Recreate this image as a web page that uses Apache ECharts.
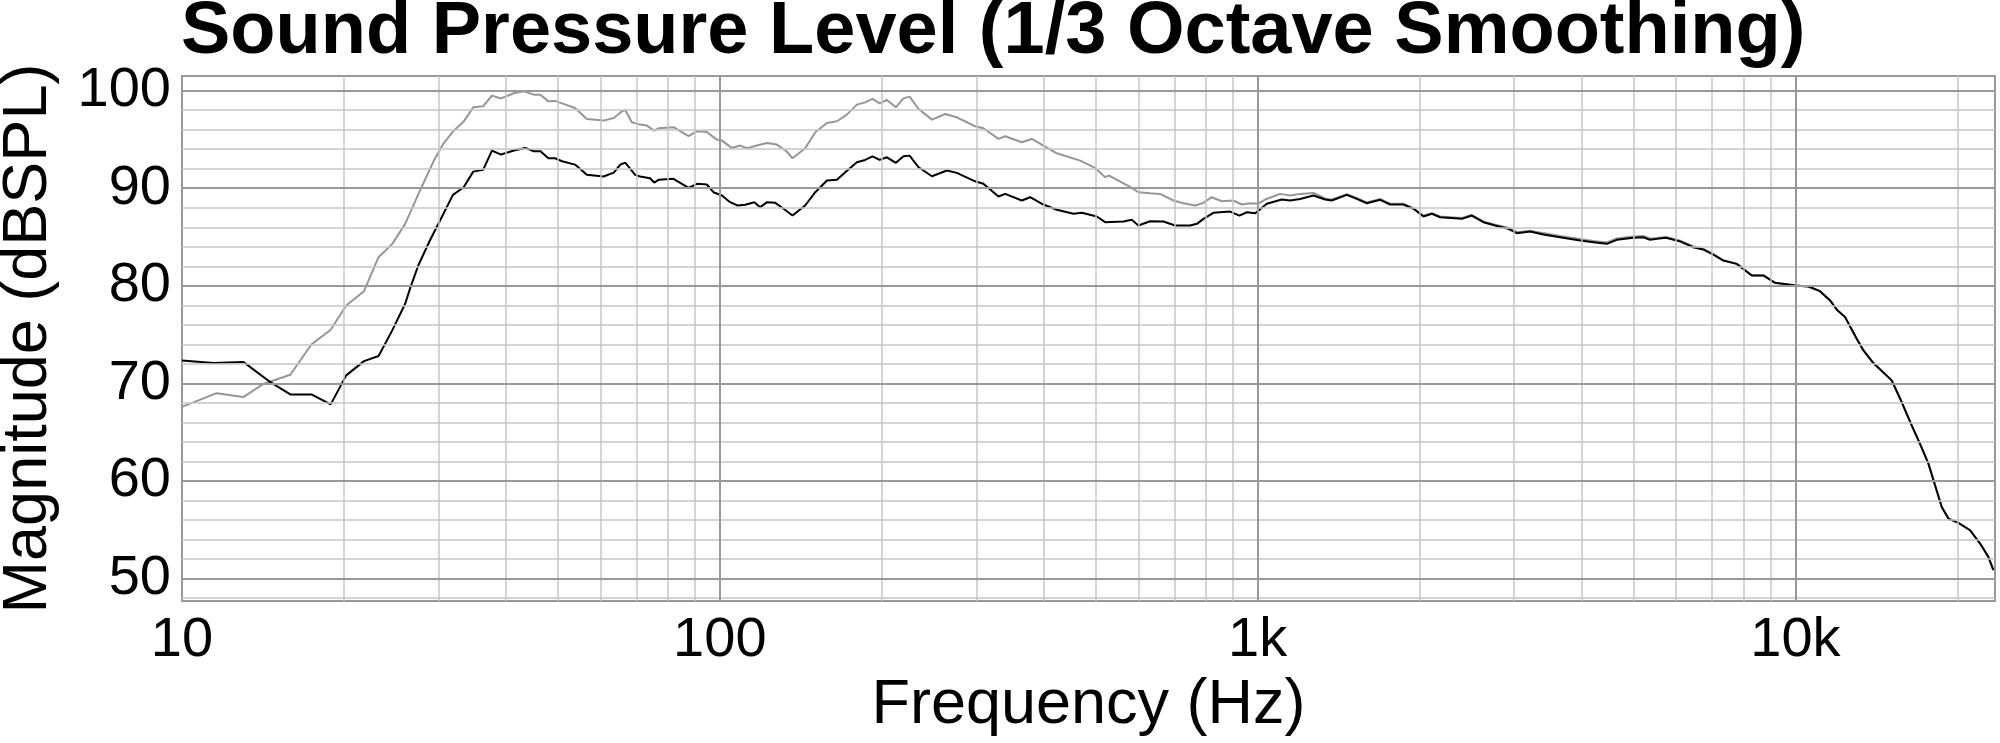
<!DOCTYPE html>
<html>
<head>
<meta charset="utf-8">
<script src="https://cdn.jsdelivr.net/npm/echarts@6/dist/echarts.min.js"></script>
<style>
html,body{margin:0;padding:0;background:#fff;}
#chart{width:2000px;height:743px;}
</style>
</head>
<body>
<div id="chart"></div>
<script>
// ---- data ----
const freqBlack = [10,11.45,13,14.5,15.9,17.4,18.9,20.2,21.8,23.2,24.6,26,26.6,27.5,28.9,30.4,31.9,33.4,34.8,36.3,37.7,39.2,41.4,43.5,45.1,46.4,48,49.4,50.9,53.8,56.6,60.8,63.5,65.3,66.7,69.6,71.1,74.2,75.5,76.9,82,87.5,90.7,94.6,97.3,100.9,104.5,107.9,111.5,115.9,118.9,122.4,126.8,131.4,136.5,144.1,150.5,158.2,165.1,171.1,179.8,186.3,192.3,198.2,204.5,212.5,219.5,225.3,234.2,248,264.4,275.9,298.3,309.1,329.7,339.3,364.4,377.6,399.6,423.2,454.6,471.2,502.4,520.6,563.1,583.6,600.2,631.1,668,702.4,749,771,793,827.5,888.9,925,955,990,1040,1109,1149,1199,1270,1335,1374,1465,1529,1596,1690,1764,1867,1949,2034,2109,2184,2397,2502,2629,2765,2926,3033,3211,3399,3650,3978,4211,4459,4654,4995,5215,5367,5530,5746,6087,6449,6762,7037,7345,7779,8296,8718,9165,10000,10570,11110,11600,11940,12370,13000,13380,13960,15100,15760,16450,17040,17670,18180,18710,19250,20090,21120,22050,22840,23340];
const splBlack = [72.35,72.1,72.2,70.24,68.87,68.87,67.85,70.82,72.28,72.8,75.43,78.16,79.86,82.08,84.64,87.03,89.32,90.1,91.7,91.88,93.86,93.45,93.86,94.13,93.79,93.79,93.07,93.07,92.76,92.42,91.37,91.2,91.6,92.42,92.63,91.37,91.2,91.02,90.58,90.86,90.96,90.04,90.45,90.38,89.59,89.25,88.57,88.23,88.3,88.57,88.06,88.57,88.5,87.89,87.2,88.23,89.59,90.79,90.86,91.64,92.66,92.9,93.27,92.9,93.17,92.6,93.27,93.34,92.15,91.23,91.81,91.57,90.71,90.45,89.15,89.42,88.74,89.08,88.33,87.79,87.38,87.48,87.1,86.52,86.59,86.76,86.18,86.62,86.59,86.18,86.18,86.35,86.86,87.48,87.61,87.2,87.54,87.44,88.4,88.84,88.74,88.9,89.25,88.84,88.74,89.32,88.91,88.46,88.81,88.33,88.33,87.89,87.1,87.38,87.03,86.86,87.2,86.52,86.18,85.84,85.39,85.56,85.26,84.98,84.64,84.47,84.3,84.71,84.92,84.98,84.71,84.81,84.92,84.57,83.96,83.69,83.2,82.59,82.25,81.06,81.06,80.31,80.03,79.93,79.45,78.5,77.55,76.79,74.58,73.38,72.08,70.31,68.09,65.7,63.83,61.78,59.56,57.34,56.15,55.7,54.95,53.59,52.22,50.86];

const freqGray = [10,11.6,13,14.2,15.9,17.4,18.9,20.2,21.8,23.2,24.6,26,27.7,29.4,30.6,32,33.4,34.8,36.3,37.7,39.2,41.4,43.2,45.1,46.4,48,49.4,50.9,53.8,56.6,60.8,63.5,65.8,66.7,68.6,71.1,73.2,75.5,76.9,82,87.5,90.7,94.6,98.7,100.9,105.2,109.1,112.3,117.2,122.4,127.7,133,136.5,144.1,150.5,158.2,165.1,172.3,179.8,186.3,192.3,198.2,204.5,212.5,219.5,225.3,234.2,248,262.5,275.9,298.3,309.1,329.7,339.3,364.4,380.4,399.6,423.2,467.8,498.9,520.6,529.3,580.5,600.2,631.1,658.6,697.4,727.8,765.2,792.9,821.7,857.7,901.6,934.6,968.3,1000,1032.5,1101,1149,1199,1270,1335,1374,1465,1529,1596,1690,1764,1867,1949,2034,2109,2184,2397,2502,2629,2765,2926,3033,3211,3399,3650,3978,4211,4459,4654,4995,5215,5367,5530,5746,6087,6449,6762,7037,7345,7779,8296,8718,9165,10000,10570,11110,11600,11940,12370,13000,13380,13960,15100,15760,16450,17040,17670,18180,18710,19250,20090,21120,22050,22840,23340];
const splGray = [67.6,69.0,68.6,69.97,70.89,73.99,75.5,77.99,79.45,82.93,84.3,86.35,89.76,92.83,94.54,95.9,96.83,98.29,98.4,99.49,99.2,99.73,99.93,99.59,99.59,98.9,98.95,98.7,98.22,97.1,96.93,97.2,97.88,98.02,96.76,96.52,96.42,95.9,96.14,96.25,95.33,95.84,95.77,94.98,94.88,94.13,94.37,94.1,94.37,94.64,94.47,93.79,93.07,94.1,95.74,96.69,96.86,97.54,98.57,98.8,99.15,98.7,99.04,98.29,99.21,99.39,98.12,97.03,97.61,97.27,96.35,96.14,95.05,95.33,94.71,95.05,94.37,93.58,92.83,92.08,91.13,91.3,90.1,89.59,89.49,89.42,88.74,88.46,88.23,88.5,89.08,88.67,88.74,88.33,88.46,88.4,88.84,89.42,89.25,89.42,89.52,88.95,88.85,89.4,89.0,88.55,88.9,88.4,88.4,87.95,87.2,87.45,87.1,86.95,87.25,86.6,86.25,85.95,85.5,85.65,85.4,85.1,84.8,84.6,84.45,84.85,85.05,85.1,84.85,84.9,85.0,84.65,84.05,83.75,83.25,82.6,82.25,81.06,81.06,80.31,80.03,79.93,79.45,78.5,77.55,76.79,74.58,73.38,72.08,70.31,68.09,65.7,63.83,61.78,59.56,57.34,56.15,55.7,54.95,53.59,52.22,50.86];

const yTickLabels = [50, 60, 70, 80, 90, 100];
const xMajorGrid = [100, 1000, 10000];
const xMinorGrid = [20,30,40,50,60,70,80,90,200,300,400,500,600,700,800,900,2000,3000,4000,5000,6000,7000,8000,9000,20000];
const yMajorGrid = [50, 60, 70, 80, 90, 100];
const yMinorGrid = [48,52,54,56,58,62,64,66,68,72,74,76,78,82,84,86,88,92,94,96,98];

const X_MIN = 10, X_MAX = 23500, Y_MIN = 47.7, Y_MAX = 101.5;
const FONT = "'Liberation Sans', 'Helvetica Neue', Helvetica, Arial, sans-serif";

const MINOR = '#c6c6c6', MAJOR = '#999999';
const gridLines = [];
xMinorGrid.forEach(v => gridLines.push({ xAxis: v, lineStyle: { color: MINOR, width: 1.5, type: 'solid' } }));
yMinorGrid.forEach(v => gridLines.push({ yAxis: v, lineStyle: { color: MINOR, width: 1.5, type: 'solid' } }));
xMajorGrid.forEach(v => gridLines.push({ xAxis: v, lineStyle: { color: MAJOR, width: 2, type: 'solid' } }));
yMajorGrid.forEach(v => gridLines.push({ yAxis: v, lineStyle: { color: MAJOR, width: 2, type: 'solid' } }));

const chart = echarts.init(document.getElementById('chart'), null, { renderer: 'canvas' });
chart.setOption({
  animation: false,
  backgroundColor: '#fff',
  title: {
    text: 'Sound Pressure Level (1/3 Octave Smoothing)',
    left: 176, top: -9,
    textStyle: { fontFamily: FONT, fontWeight: 'bold', fontSize: 74, color: '#000' }
  },
  grid: {
    left: 182, right: 5, top: 76, bottom: 142,
    containLabel: false, outerBoundsMode: 'none',
    show: true, borderColor: MAJOR, borderWidth: 2, backgroundColor: 'transparent'
  },
  xAxis: {
    type: 'log', logBase: 10, min: X_MIN, max: X_MAX,
    name: 'Frequency (Hz)', nameLocation: 'middle', nameGap: 70,
    nameTextStyle: { fontFamily: FONT, fontSize: 63, color: '#000' },
    axisLine: { show: true, lineStyle: { color: MAJOR, width: 2 } },
    axisTick: { show: false },
    splitLine: { show: false },
    axisLabel: {
      fontFamily: FONT, fontSize: 56, color: '#000', margin: 12,
      showMaxLabel: false, hideOverlap: false,
      formatter: v => v >= 1000 ? (v / 1000) + 'k' : String(v)
    }
  },
  yAxis: {
    type: 'value', min: Y_MIN, max: Y_MAX,
    name: 'Magnitude (dBSPL)', nameLocation: 'middle', nameGap: 122,
    nameTextStyle: { fontFamily: FONT, fontSize: 63, color: '#000' },
    axisLine: { show: true, lineStyle: { color: MAJOR, width: 2 } },
    axisTick: { show: false },
    splitLine: { show: false },
    axisLabel: {
      fontFamily: FONT, fontSize: 56, color: '#000', margin: 11,
      customValues: yTickLabels
    }
  },
  series: [
    {
      type: 'line', name: 'grid', data: [[X_MIN, Y_MIN]], showSymbol: false, silent: true,
      lineStyle: { opacity: 0 }, z: 1,
      markLine: { symbol: 'none', silent: true, animation: false, label: { show: false }, data: gridLines }
    },
    {
      type: 'line', name: 'gray', z: 3,
      data: freqGray.map((f, i) => [f, splGray[i]]),
      showSymbol: false, smooth: false,
      lineStyle: { color: '#969696', width: 2 }
    },
    {
      type: 'line', name: 'black', z: 4,
      data: freqBlack.map((f, i) => [f, splBlack[i]]),
      showSymbol: false, smooth: false,
      lineStyle: { color: '#000', width: 2 }
    }
  ]
});
</script>
</body>
</html>
